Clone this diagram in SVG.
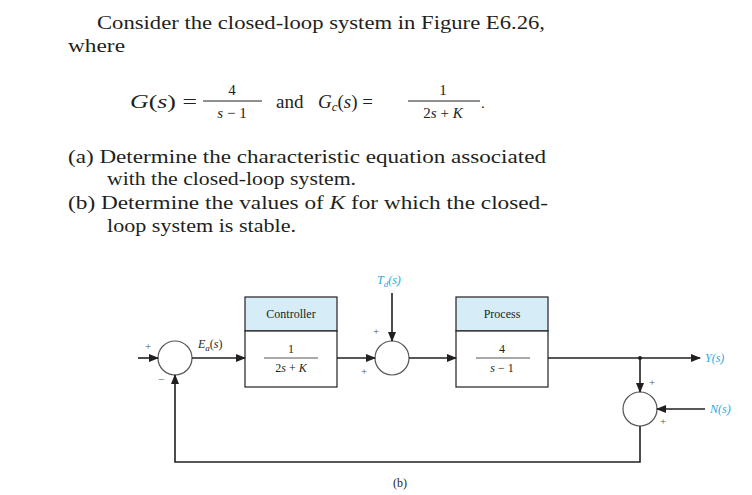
<svg xmlns="http://www.w3.org/2000/svg" width="752" height="495" viewBox="0 0 752 495">
<style>
.t{font-family:"Liberation Serif",serif;font-size:19px;fill:#231f20}
.s{font-family:"Liberation Serif",serif;font-size:12px;fill:#231f20}
.f{font-family:"Liberation Serif",serif;font-size:15px;fill:#231f20}
.b{font-family:"Liberation Serif",serif;font-size:12px;fill:#29abe2;font-style:italic}
.p{font-family:"Liberation Serif",serif;font-size:11px;fill:#555}
.ln{stroke:#231f20;stroke-width:1.6;fill:none}
.c{stroke:#555;stroke-width:1.2;fill:#fff}
</style>
<defs><marker id="a" markerWidth="10" markerHeight="8" refX="9" refY="4" orient="auto" markerUnits="userSpaceOnUse"><path d="M0,0L10,4L0,8z" fill="#231f20"/></marker></defs>
<rect width="752" height="495" fill="#fff"/>
<text class="t" x="97" y="29" textLength="448" lengthAdjust="spacingAndGlyphs">Consider the closed-loop system in Figure E6.26,</text>
<text class="t" x="68" y="52" textLength="57" lengthAdjust="spacingAndGlyphs">where</text>
<text class="t" x="130" y="108" textLength="67" lengthAdjust="spacingAndGlyphs"><tspan font-style="italic">G</tspan>(<tspan font-style="italic">s</tspan>) =</text>
<text class="f" x="232" y="95" text-anchor="middle">4</text>
<line x1="203" y1="101" x2="262" y2="101" stroke="#231f20"/>
<text class="f" x="232" y="118" text-anchor="middle"><tspan font-style="italic">s</tspan> − 1</text>
<text class="t" x="276" y="108">and</text>
<text class="t" x="318" y="108"><tspan font-style="italic">G<tspan style="font-size:13px" dy="3">c</tspan></tspan><tspan dy="-3">(</tspan><tspan font-style="italic">s</tspan>) =</text>
<text class="f" x="443" y="95" text-anchor="middle">1</text>
<line x1="408" y1="101" x2="480" y2="101" stroke="#231f20"/>
<text class="f" x="443" y="118" text-anchor="middle">2<tspan font-style="italic">s</tspan> + <tspan font-style="italic">K</tspan></text>
<text class="f" x="481" y="108">.</text>
<text class="t" x="68" y="163" textLength="478" lengthAdjust="spacingAndGlyphs">(a) Determine the characteristic equation associated</text>
<text class="t" x="107" y="185" textLength="249" lengthAdjust="spacingAndGlyphs">with the closed-loop system.</text>
<text class="t" x="68" y="209" textLength="480" lengthAdjust="spacingAndGlyphs">(b) Determine the values of <tspan font-style="italic">K</tspan> for which the closed-</text>
<text class="t" x="107" y="232" textLength="189" lengthAdjust="spacingAndGlyphs">loop system is stable.</text>
<g id="controller"><rect x="245" y="297" width="92" height="34" fill="#d6edf8" stroke="#231f20" stroke-width="1.2"/><rect x="245" y="331" width="92" height="56" fill="#fff" stroke="#231f20" stroke-width="1.2"/>
<text class="s" x="291" y="318" text-anchor="middle">Controller</text>
<text class="s" x="291" y="353" text-anchor="middle">1</text><line x1="264" y1="358" x2="318" y2="358" stroke="#555"/>
<text class="s" x="291" y="372" text-anchor="middle">2<tspan font-style="italic">s</tspan> + <tspan font-style="italic">K</tspan></text></g>
<g id="process"><rect x="456" y="297" width="92" height="34" fill="#d6edf8" stroke="#231f20" stroke-width="1.2"/><rect x="456" y="331" width="92" height="56" fill="#fff" stroke="#231f20" stroke-width="1.2"/>
<text class="s" x="502" y="318" text-anchor="middle">Process</text>
<text class="s" x="502" y="353" text-anchor="middle">4</text><line x1="476" y1="358" x2="530" y2="358" stroke="#555"/>
<text class="s" x="502" y="372" text-anchor="middle"><tspan font-style="italic">s</tspan> − 1</text></g>
<g id="sum1"><circle class="c" cx="175" cy="358" r="17"/></g>
<g id="sum2"><circle class="c" cx="392" cy="358" r="17"/></g>
<g id="sum3"><circle class="c" cx="640" cy="409" r="17"/></g>
<g id="connectors">
<line class="ln" x1="138" y1="358" x2="158" y2="358" marker-end="url(#a)"/>
<line class="ln" x1="192" y1="358" x2="245" y2="358" marker-end="url(#a)"/>
<line class="ln" x1="337" y1="358" x2="375" y2="358" marker-end="url(#a)"/>
<line class="ln" x1="392" y1="293" x2="392" y2="341" marker-end="url(#a)"/>
<line class="ln" x1="409" y1="358" x2="456" y2="358" marker-end="url(#a)"/>
<line class="ln" x1="548" y1="358" x2="700" y2="358" marker-end="url(#a)"/>
<circle cx="640" cy="358" r="2" fill="#231f20"/>
<line class="ln" x1="640" y1="358" x2="640" y2="392" marker-end="url(#a)"/>
<line class="ln" x1="705" y1="409" x2="657" y2="409" marker-end="url(#a)"/>
<polyline class="ln" points="640,426 640,462 175,462 175,375" marker-end="url(#a)"/>
</g>
<g id="labels">
<text class="p" x="145" y="350">+</text>
<text class="p" x="158" y="383">−</text>
<text class="s" x="198" y="348"><tspan font-style="italic">E<tspan style="font-size:9px" dy="3">a</tspan></tspan><tspan dy="-3">(</tspan><tspan font-style="italic">s</tspan>)</text>
<text class="p" x="373" y="335">+</text>
<text class="p" x="361" y="375">+</text>
<text class="b" x="377" y="284"><tspan>T</tspan><tspan style="font-size:9px" dy="3">d</tspan><tspan dy="-3">(s)</tspan></text>
<text class="b" x="705" y="362">Y(s)</text>
<text class="b" x="710" y="413">N(s)</text>
<text class="p" x="649" y="386" fill="#c0702a">+</text>
<text class="p" x="660" y="425">+</text>
<text class="s" x="400" y="487" text-anchor="middle">(b)</text>
</g>
</svg>
